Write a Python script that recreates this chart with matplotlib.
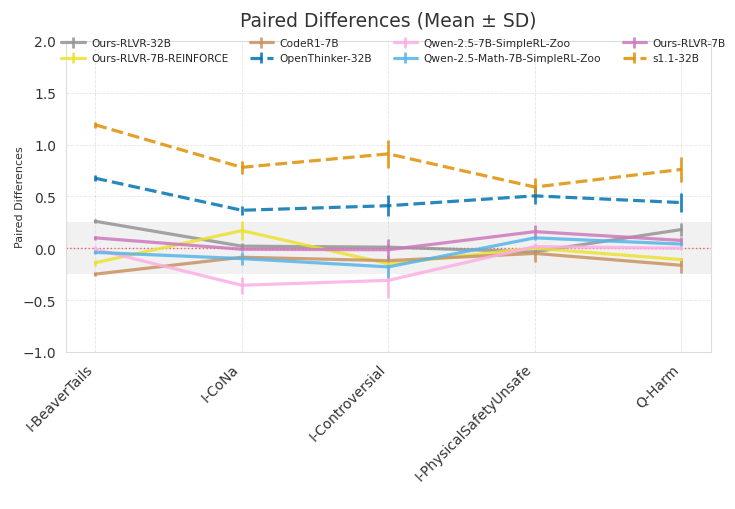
import matplotlib
matplotlib.use("Agg")
import matplotlib.pyplot as plt
import seaborn as sns
import numpy as np

categories = ["I-BeaverTails", "I-CoNa", "I-Controversial", "I-PhysicalSafetyUnsafe", "Q-Harm"]

models = ["Ours-RLVR-32B", "Ours-RLVR-7B-REINFORCE", "CodeR1-7B", "OpenThinker-32B",
          "Qwen-2.5-7B-SimpleRL-Zoo", "Qwen-2.5-Math-7B-SimpleRL-Zoo", "Ours-RLVR-7B", "s1.1-32B"]

mean_ours_rlvr_32b = [0.26, 0.02, 0.01, -0.035, 0.18]
sd_ours_rlvr_32b = [0.02, 0.03, 0.03, 0.03, 0.06]
mean_ours_rlvr_7b_reinforce = [-0.14, 0.17, -0.15, 0.0, -0.11]
sd_ours_rlvr_7b_reinforce = [0.03, 0.09, 0.03, 0.03, 0.02]
mean_coder1_7b = [-0.25, -0.087, -0.12, -0.05, -0.165]
sd_coder1_7b = [0.02, 0.02, 0.03, 0.08, 0.07]
mean_openthinker_32b = [0.675, 0.366, 0.41, 0.505, 0.44]
sd_openthinker_32b = [0.03, 0.045, 0.1, 0.08, 0.09]
mean_qwen_7b_zoo = [-0.01, -0.357, -0.31, 0.016, 0.0]
sd_qwen_7b_zoo = [0.03, 0.08, 0.17, 0.03, 0.02]
mean_qwen_math_7b_zoo = [-0.04, -0.10, -0.18, 0.10, 0.04]
sd_qwen_math_7b_zoo = [0.02, 0.06, 0.11, 0.02, 0.02]
mean_ours_rlvr_7b = [0.10, -0.01, -0.015, 0.16, 0.075]
sd_ours_rlvr_7b = [0.02, 0.02, 0.1, 0.065, 0.03]
mean_s1_32b = [1.19, 0.78, 0.91, 0.59, 0.76]
sd_s1_32b = [0.03, 0.06, 0.135, 0.09, 0.12]

means = [mean_ours_rlvr_32b, mean_ours_rlvr_7b_reinforce, mean_coder1_7b, mean_openthinker_32b,
         mean_qwen_7b_zoo, mean_qwen_math_7b_zoo, mean_ours_rlvr_7b, mean_s1_32b]
sds = [sd_ours_rlvr_32b, sd_ours_rlvr_7b_reinforce, sd_coder1_7b, sd_openthinker_32b,
       sd_qwen_7b_zoo, sd_qwen_math_7b_zoo, sd_ours_rlvr_7b, sd_s1_32b]

cb = sns.color_palette("colorblind")
colors = [cb[7], cb[8], cb[5], cb[0], cb[6], cb[9], cb[4], cb[1]]
styles = ["-", "-", "-", "--", "-", "-", "-", "--"]

sns.set_style("whitegrid")
plt.rcParams['font.family'] = ['DejaVu Sans']

fig = plt.figure(figsize=(7.35, 5.1), dpi=100)
ax = fig.add_axes([0.0898, 0.308, 0.877, 0.610])

x = np.arange(len(categories))
ax.axhspan(-0.25, 0.25, color="#d9d9d9", alpha=0.35, lw=0, zorder=0)
ax.axhline(0, color="red", ls=":", lw=1, alpha=0.6, zorder=1)

for m, mu, sd, c, ls in zip(models, means, sds, colors, styles):
    ax.errorbar(x, mu, yerr=sd, label=m, color=c, ls=ls, lw=2.3, elinewidth=2,
                capsize=0, alpha=0.85, zorder=3)

ax.set_xlim(-0.2, 4.2)
ax.set_ylim(-1.0, 2.0)
ax.set_xticks(x)
ax.set_xticklabels(categories, rotation=45, ha="right", fontsize=10, color="#333333")
ax.tick_params(axis="y", labelsize=10, labelcolor="#333333")
ax.set_ylabel("Paired Differences", fontsize=8, color="#333333")
ax.yaxis.set_label_coords(-0.064, 0.5)
ax.set_title("Paired Differences (Mean ± SD)", fontsize=13.5, color="#333333", pad=11)
ax.grid(True, ls="--", lw=0.6, alpha=0.5)
for s in ax.spines.values():
    s.set_color("#dddddd")

fig.legend(*ax.get_legend_handles_labels(), ncol=4, loc="upper left",
           bbox_to_anchor=(61 / 735, 1 - 39 / 510), bbox_transform=fig.transFigure,
           frameon=False, fontsize=7.7, handlelength=2.2, handletextpad=0.6,
           columnspacing=2.0, labelspacing=0.5, borderpad=0, borderaxespad=0)

fig.savefig("out.png", dpi=100)
